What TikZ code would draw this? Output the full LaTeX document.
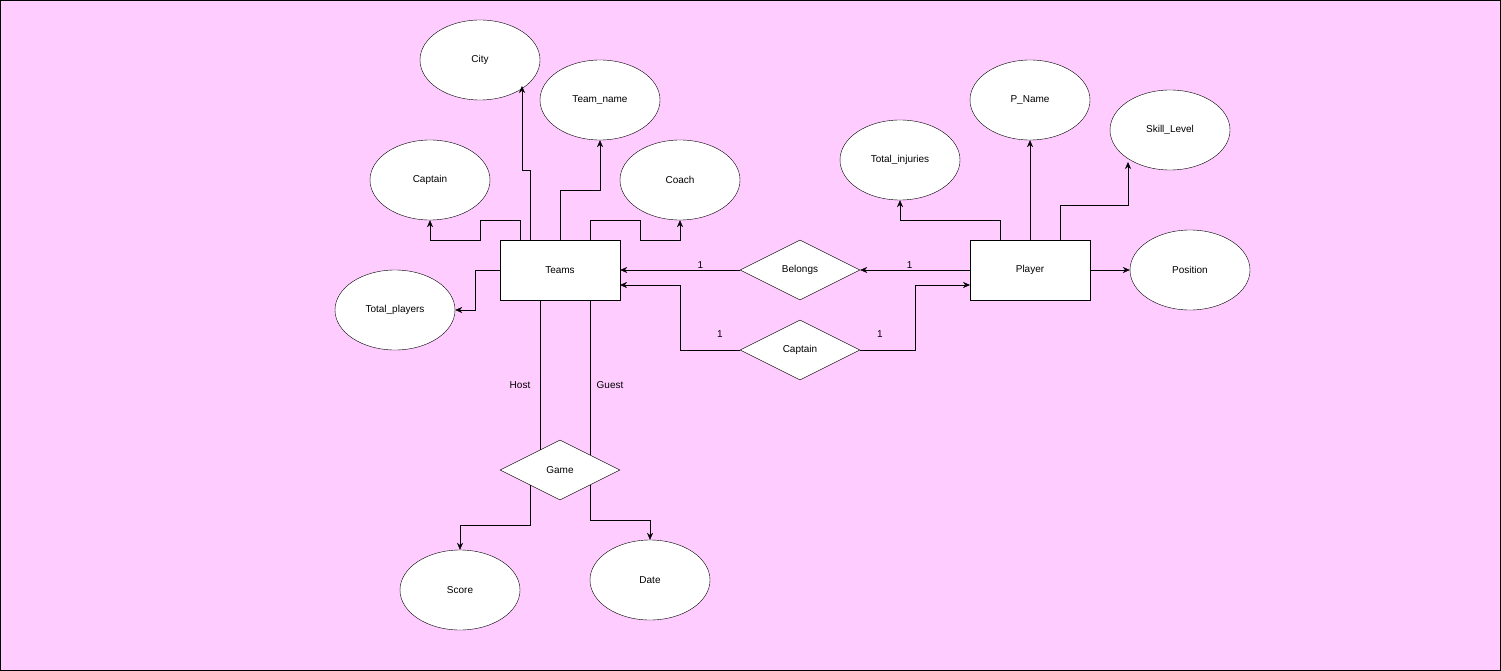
\documentclass[tikz,border=0pt]{standalone}
\usepackage{fontspec}
\setmainfont{Liberation Sans}
\usetikzlibrary{shapes.geometric,arrows.meta}
\definecolor{bgpink}{HTML}{FFCCFF}
\tikzset{
  attr/.style={ellipse, draw=black, fill=white, minimum width=120pt, minimum height=80pt, inner sep=0pt},
  ent/.style={rectangle, draw=black, fill=white, minimum width=120pt, minimum height=60pt, inner sep=0pt},
  rel/.style={diamond, draw=black, fill=white, minimum width=120pt, minimum height=60pt, inner sep=0pt, aspect=2},
  lbl/.style={inner sep=1pt},
  every node/.style={font=\fontsize{10}{12}\selectfont},
  link/.style={draw=black, -{Stealth[length=7pt,width=6pt]}}
}
\begin{document}
\begin{tikzpicture}[x=1pt,y=-1pt]
\path[fill=bgpink, draw=black] (0.5,0.5) rectangle (1500.5,670.5);
\useasboundingbox (0,0) rectangle (1501,671);

\node[attr] (city) at (480,60){City};
\node[attr] (tname) at (600,100){Team\_name};
\node[attr] (capt) at (430,180){Captain};
\node[attr] (coach) at (680,180){Coach};
\node[attr] (tplay) at (395,310){Total\_players};
\node[attr] (tinj) at (900,160){Total\_injuries};
\node[attr] (pname) at (1030,100){P\_Name};
\node[attr] (skill) at (1170,130){Skill\_Level};
\node[attr] (pos) at (1190,270){Position};
\node[attr] (score) at (460,590){Score};
\node[attr] (date) at (650,580){Date};

\node[ent] (teams) at (560,270){Teams};
\node[ent] (player) at (1030,270){Player};

\node[rel] (belongs) at (800,270){Belongs};
\node[rel] (captrel) at (800,350){Captain};
\node[rel] (game) at (560,470){Game};

% Teams attributes
\draw[link] (530,240) -- (530,170) -- (522,170) -- (522,86);
\draw[link] (560,240) -- (560,190) -- (600,190) -- (tname.south);
\draw[link] (520,240) -- (520,220) -- (480,220) -- (480,240) -- (430,240) -- (capt.south);
\draw[link] (590,240) -- (590,220) -- (640,220) -- (640,240) -- (680,240) -- (coach.south);
\draw[link] (teams.west) -- (475,270) -- (475,310) -- (tplay.east);

% Player attributes
\draw[link] (1000,240) -- (1000,220) -- (900,220) -- (tinj.south);
\draw[link] (1030,240) -- (pname.south);
\draw[link] (1060,240) -- (1060,205) -- (1128,205) -- (1128,162);
\draw[link] (player.east) -- (pos.west);

% relations
\draw[link] (belongs.west) -- node[lbl, above, pos=0.33]{1} (teams.east);
\draw[link] (player.west) -- node[lbl, above, pos=0.55]{1} (belongs.east);
\draw[link] (captrel.west) -- (680,350) -- (680,285) -- (620,285);
\draw[link] (captrel.east) -- (915,350) -- (915,285) -- (970,285);
\node[lbl] (c1) at (720,334){1};
\node[lbl] (c2) at (880,334){1};

% game
\draw (540,300) -- (540,450);
\draw (590,300) -- (590,455);
\node[lbl, fill=bgpink] (host) at (520,385){Host};
\node[lbl, fill=bgpink] (guest) at (610,385){Guest};
\draw[link] (530,485) -- (530,525) -- (460,525) -- (score.north);
\draw[link] (590,485) -- (590,520) -- (650,520) -- (date.north);
\end{tikzpicture}
\end{document}
